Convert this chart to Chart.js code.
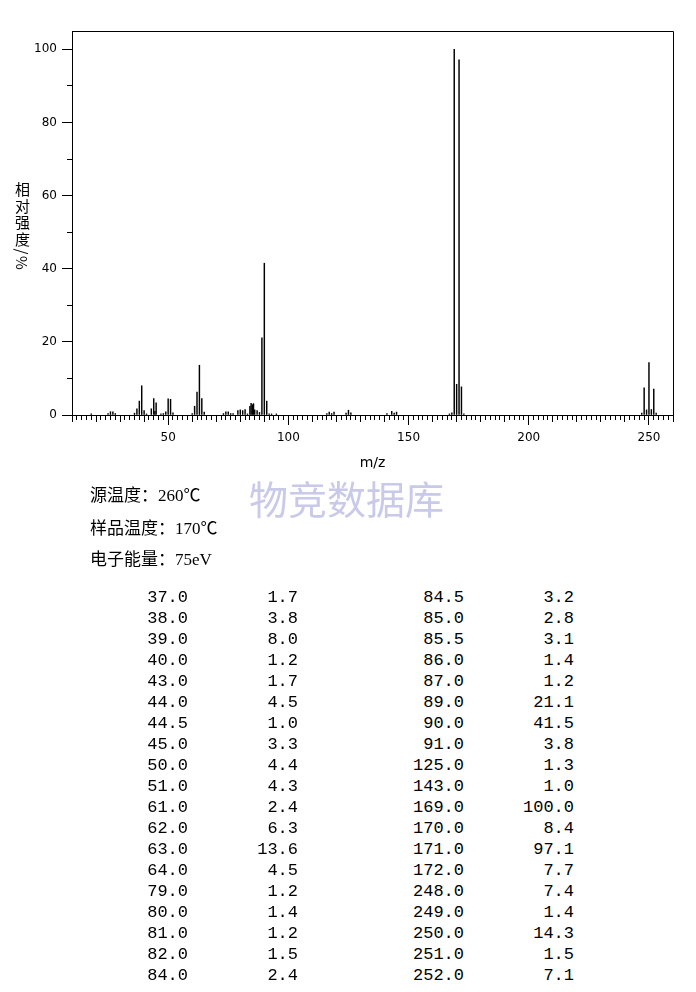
<!DOCTYPE html>
<html>
<head>
<meta charset="utf-8">
<script src="https://cdn.jsdelivr.net/npm/chart.js@4.4.1/dist/chart.umd.min.js"></script>
<style>
  body { margin: 0; background: #fff; width: 696px; height: 992px; position: relative; overflow: hidden; }
  #ms { position: absolute; left: 0; top: 0; }
  .ytitle { position: absolute; left: 12px; top: 182px; writing-mode: vertical-rl; font: 15px "Noto Sans CJK SC", sans-serif; letter-spacing: 1.6px; color: #000; }
  .cond { position: absolute; left: 90px; font: 17px "Liberation Serif", "Noto Sans CJK SC", serif; color: #000; line-height: 20px; }
  .mark { position: absolute; left: 249px; top: 474px; font: 39px "Noto Sans CJK SC", sans-serif; color: #c9c9ea; line-height: 46px; }
  .cell { position: absolute; width: 100px; text-align: right; font: 17px "Liberation Mono", monospace; color: #000; line-height: 20px; }
</style>
</head>
<body>
<canvas id="ms" width="696" height="480"></canvas>
<div class="ytitle">相对强度/%</div>
<div class="mark">物竞数据库</div>
<div class="cond" style="top:486px">源温度：260℃</div>
<div class="cond" style="top:519px">样品温度：170℃</div>
<div class="cond" style="top:550px">电子能量：75eV</div>
<div id="tbl"></div>
<script>
// peaks listed in the table
var peakMz = [37.0, 38.0, 39.0, 40.0, 43.0, 44.0, 44.5, 45.0, 50.0, 51.0, 61.0, 62.0, 63.0, 64.0, 79.0, 80.0, 81.0, 82.0, 84.0,
              84.5, 85.0, 85.5, 86.0, 87.0, 89.0, 90.0, 91.0, 125.0, 143.0, 169.0, 170.0, 171.0, 172.0, 248.0, 249.0, 250.0, 251.0, 252.0];
var peakInt = [1.7, 3.8, 8.0, 1.2, 1.7, 4.5, 1.0, 3.3, 4.4, 4.3, 2.4, 6.3, 13.6, 4.5, 1.2, 1.4, 1.2, 1.5, 2.4,
               3.2, 2.8, 3.1, 1.4, 1.2, 21.1, 41.5, 3.8, 1.3, 1.0, 100.0, 8.4, 97.1, 7.7, 7.4, 1.4, 14.3, 1.5, 7.1];
// small peaks seen in the spectrum but not in the table (estimated)
var smallMz = [18, 25, 26, 27, 28, 36, 41, 47, 48, 49, 52, 60, 65, 73, 74, 75, 76, 77, 83, 88, 92, 93, 95,
               116, 117, 118, 119, 124, 126, 141, 144, 145, 167, 168, 173, 247, 253];
var smallInt = [0.3, 0.4, 0.9, 0.9, 0.4, 0.5, 0.3, 0.3, 0.4, 0.9, 0.6, 0.4, 0.8, 0.4, 0.9, 0.9, 0.4, 0.4, 0.3, 0.7, 0.3, 0.3, 0.3,
                0.4, 0.8, 0.4, 0.8, 0.5, 0.6, 0.4, 0.5, 0.8, 0.3, 0.6, 0.3, 0.5, 0.5];

var xMin = 10, xMax = 260;
var yMin = 0, yMax = 105;

var pts = [];
for (var i = 0; i < peakMz.length; i++) pts.push({x: peakMz[i], y: peakInt[i]});
for (var j = 0; j < smallMz.length; j++) pts.push({x: smallMz[j], y: smallInt[j]});
pts.sort(function (a, b) { return a.x - b.x; });

var tickFont = {family: 'DejaVu Sans', size: 12};

// ticks on every multiple of step inside [min, max]
function stepTicks(step) {
    return function (s) {
        var t = [];
        for (var v = Math.ceil(s.min / step) * step; v <= s.max + 1e-9; v += step) t.push({value: v});
        s.ticks = t;
    };
}

// tick-only axis of zero size, stacked under the main one
function tickAxis(pos, lo, hi, step, len) {
    return {
        type: 'linear', position: pos, min: lo, max: hi, offset: false,
        ticks: {display: false},
        grid: {drawOnChartArea: false, tickLength: len, color: '#000', offset: false},
        border: {display: false},
        afterBuildTicks: stepTicks(step),
        afterFit: function (s) { if (pos === 'bottom') s.height = 0; else s.width = 0; }
    };
}

var frame = {
    id: 'frame',
    afterDraw: function (chart) {
        var a = chart.chartArea, ctx = chart.ctx;
        ctx.save();
        ctx.strokeStyle = '#000';
        ctx.lineWidth = 1;
        ctx.beginPath();
        ctx.moveTo(Math.round(a.left) + 0.5, Math.round(a.top) + 0.5);
        ctx.lineTo(Math.round(a.right) + 0.5, Math.round(a.top) + 0.5);
        ctx.lineTo(Math.round(a.right) + 0.5, Math.round(a.bottom) + 0.5);
        ctx.stroke();
        ctx.restore();
    }
};

new Chart(document.getElementById('ms'), {
    type: 'bar',
    data: {
        datasets: [{
            data: pts,
            backgroundColor: '#000',
            borderWidth: 0,
            barThickness: 0.8,
            xAxisID: 'x',
            yAxisID: 'y'
        }]
    },
    options: {
        responsive: false,
        animation: false,
        layout: {padding: {top: 31, right: 23, left: 0, bottom: 0}},
        plugins: {legend: {display: false}, tooltip: {enabled: false}},
        scales: {
            xMinor: tickAxis('bottom', xMin, xMax, 2, 5),
            xMid: tickAxis('bottom', xMin, xMax, 10, 7),
            yMinor: tickAxis('left', yMin, yMax, 10, 5),
            x: {
                type: 'linear', position: 'bottom', min: xMin, max: xMax, offset: false,
                ticks: {color: '#000', font: tickFont, padding: 6, maxRotation: 0, autoSkip: false},
                grid: {drawOnChartArea: false, tickLength: 10, color: '#000', offset: false},
                border: {display: true, color: '#000', width: 1},
                title: {display: true, text: 'm/z', color: '#000', font: {family: 'DejaVu Sans', size: 14}, padding: {top: 0, bottom: 8.6}},
                afterBuildTicks: stepTicks(50),
                afterFit: function (s) { s.height = 65; }
            },
            y: {
                type: 'linear', position: 'left', min: yMin, max: yMax,
                ticks: {color: '#000', font: tickFont, padding: 5},
                grid: {drawOnChartArea: false, tickLength: 10, color: '#000'},
                border: {display: true, color: '#000', width: 1},
                afterBuildTicks: stepTicks(20),
                afterFit: function (s) { s.width = 72; }
            }
        }
    },
    plugins: [frame]
});

// peak table: two columns of (m/z, intensity) pairs
var tbl = document.getElementById('tbl');
var rows = Math.ceil(peakMz.length / 2);
var colRight = [188, 298, 464, 574];
for (var k = 0; k < peakMz.length; k++) {
    var col = k < rows ? 0 : 2;
    var row = k % rows;
    var rowTop = 588 + row * 21;
    var vals = [peakMz[k].toFixed(1), peakInt[k].toFixed(1)];
    for (var c = 0; c < 2; c++) {
        var d = document.createElement('div');
        d.className = 'cell';
        d.style.left = (colRight[col + c] - 100) + 'px';
        d.style.top = rowTop + 'px';
        d.textContent = vals[c];
        tbl.appendChild(d);
    }
}
</script>
</body>
</html>
